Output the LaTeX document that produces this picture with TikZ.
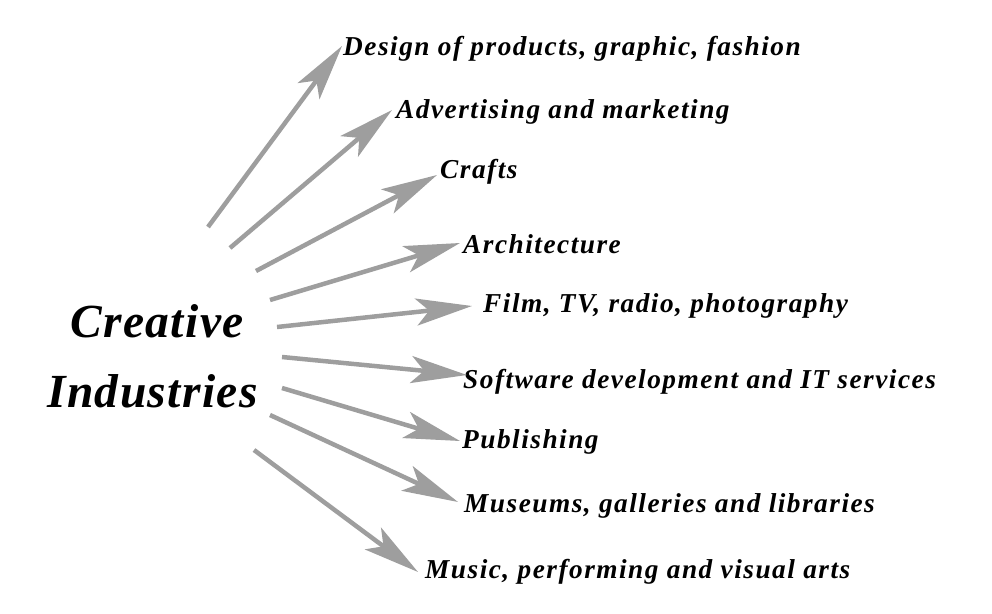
\documentclass[tikz,border=0pt]{standalone}
\usepackage{fontspec}
\setmainfont{Liberation Serif}
\usetikzlibrary{arrows.meta}
\begin{document}
\begin{tikzpicture}[x=1pt,y=-1pt,
  lbl/.style={anchor=base west,inner sep=0pt,font=\fontsize{27.3}{30}\selectfont\bfseries\itshape\addfontfeature{LetterSpace=5.5}},
  ttl/.style={anchor=base west,inner sep=0pt,font=\fontsize{47.5}{52}\selectfont\bfseries\itshape\addfontfeature{LetterSpace=3}},
  arr/.style={draw=black!38,line width=4.5pt,-{Stealth[length=56pt,width=27pt,inset=13pt]}}]
\useasboundingbox (0,0) rectangle (992,613);
\node[ttl] (t1) at (70,337) {Creative};
\node[ttl] (t2) at (47,407) {Industries};
\node[lbl] (l1) at (343,55) {Design of products, graphic, fashion};
\node[lbl] (l2) at (396,118) {Advertising and marketing};
\node[lbl] (l3) at (440,178) {Crafts};
\node[lbl] (l4) at (463,253) {Architecture};
\node[lbl] (l5) at (483,312) {Film, TV, radio, photography};
\node[lbl] (l6) at (463,388) {Software development and IT services};
\node[lbl] (l7) at (462,448) {Publishing};
\node[lbl] (l8) at (464,512) {Museums, galleries and libraries};
\node[lbl] (l9) at (425,578) {Music, performing and visual arts};
\coordinate (s1) at (208,227); \coordinate (e1) at (342,46);
\coordinate (s2) at (230,248); \coordinate (e2) at (392,110);
\coordinate (s3) at (256,271); \coordinate (e3) at (437,175);
\coordinate (s4) at (270,300); \coordinate (e4) at (460,243);
\coordinate (s5) at (277,327); \coordinate (e5) at (472,306);
\coordinate (s6) at (282,357); \coordinate (e6) at (467,375);
\coordinate (s7) at (282,388); \coordinate (e7) at (460,441);
\coordinate (s8) at (270,415); \coordinate (e8) at (458,502);
\coordinate (s9) at (254,450); \coordinate (e9) at (418,572);
\foreach \i in {1,...,9} {\draw[arr] (s\i) -- (e\i);}
\end{tikzpicture}
\end{document}
